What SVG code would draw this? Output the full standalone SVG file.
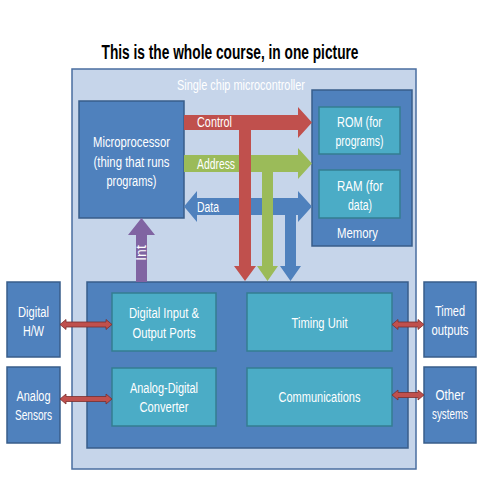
<svg xmlns="http://www.w3.org/2000/svg" width="480" height="480" viewBox="0 0 480 480">
<style>
text{font-family:"Liberation Sans","Noto Sans",sans-serif;fill:#ffffff;text-anchor:middle;font-size:14px}
.title{fill:#000000;font-weight:bold;font-size:20px}
.blue{fill:#4f81bd;stroke:#385d8a;stroke-width:1.5}
.teal{fill:#4bacc6;stroke:#357d91;stroke-width:1.5}
.small{fill:#c0504d;stroke:#7a2f2d;stroke-width:0.8}
</style>
<rect width="480" height="480" fill="#ffffff"/>
<text class="title" x="230" y="59" textLength="257" lengthAdjust="spacingAndGlyphs">This is the whole course, in one picture</text>
<g id="mcu">
<rect x="72" y="69" width="344" height="400" fill="#c6d5ea" stroke="#4a6ea0" stroke-width="1.5"/>
<text x="241" y="90" font-size="13" textLength="128" lengthAdjust="spacingAndGlyphs">Single chip microcontroller</text>
</g>
<g id="memory">
<rect class="blue" x="312" y="90" width="100" height="156"/>
<text x="357.5" y="238" textLength="41" lengthAdjust="spacingAndGlyphs">Memory</text>
</g>
<g id="rom">
<rect class="teal" x="319" y="107" width="81" height="47"/>
<text x="359.5" y="127" textLength="45" lengthAdjust="spacingAndGlyphs">ROM (for</text>
<text x="359.5" y="146" textLength="48" lengthAdjust="spacingAndGlyphs">programs)</text>
</g>
<g id="ram">
<rect class="teal" x="319" y="170" width="81" height="48"/>
<text x="360" y="191" textLength="46" lengthAdjust="spacingAndGlyphs">RAM (for</text>
<text x="360" y="210" textLength="24" lengthAdjust="spacingAndGlyphs">data)</text>
</g>
<g id="microprocessor">
<rect class="blue" x="79" y="101" width="105" height="117"/>
<text x="131.5" y="147" textLength="77" lengthAdjust="spacingAndGlyphs">Microprocessor</text>
<text x="131.5" y="167" textLength="76" lengthAdjust="spacingAndGlyphs">(thing that runs</text>
<text x="131.5" y="186" textLength="50" lengthAdjust="spacingAndGlyphs">programs)</text>
</g>
<g id="peripherals">
<rect class="blue" x="87" y="282" width="321" height="166"/>
</g>
<g id="dio">
<rect class="teal" x="112" y="293" width="104" height="58"/>
<text x="164" y="318" textLength="70" lengthAdjust="spacingAndGlyphs">Digital Input &amp;</text>
<text x="164" y="338" textLength="63" lengthAdjust="spacingAndGlyphs">Output Ports</text>
</g>
<g id="adc">
<rect class="teal" x="112" y="368" width="104" height="58"/>
<text x="164" y="393" textLength="68" lengthAdjust="spacingAndGlyphs">Analog-Digital</text>
<text x="164" y="412" textLength="49" lengthAdjust="spacingAndGlyphs">Converter</text>
</g>
<g id="timing">
<rect class="teal" x="247" y="293" width="145" height="58"/>
<text x="319.5" y="328" textLength="56" lengthAdjust="spacingAndGlyphs">Timing Unit</text>
</g>
<g id="comms">
<rect class="teal" x="247" y="368" width="145" height="58"/>
<text x="319.5" y="402" textLength="82" lengthAdjust="spacingAndGlyphs">Communications</text>
</g>
<g id="digitalhw">
<rect class="blue" x="7" y="282" width="53" height="75"/>
<text x="33.5" y="317" textLength="31" lengthAdjust="spacingAndGlyphs">Digital</text>
<text x="33.5" y="336" textLength="21" lengthAdjust="spacingAndGlyphs">H/W</text>
</g>
<g id="analogsensors">
<rect class="blue" x="7" y="367" width="53" height="76"/>
<text x="33.5" y="401" textLength="34" lengthAdjust="spacingAndGlyphs">Analog</text>
<text x="33.5" y="420" textLength="37" lengthAdjust="spacingAndGlyphs">Sensors</text>
</g>
<g id="timedoutputs">
<rect class="blue" x="424" y="282" width="52" height="75"/>
<text x="450" y="316" textLength="30" lengthAdjust="spacingAndGlyphs">Timed</text>
<text x="450" y="335" textLength="37" lengthAdjust="spacingAndGlyphs">outputs</text>
</g>
<g id="othersystems">
<rect class="blue" x="424" y="367" width="52" height="76"/>
<text x="450" y="400" textLength="29" lengthAdjust="spacingAndGlyphs">Other</text>
<text x="450" y="419" textLength="36" lengthAdjust="spacingAndGlyphs">systems</text>
</g>
<g id="connectors">
<path fill="#4f81bd" d="M197,198 H298 V191 L312,206.5 L298,222 V215 H296 V266 H301 L290.5,281 L280,266 H285 V215 H197 V222 L184,206.5 L197,191 Z"/>
<path fill="#9bbb59" d="M184,155 H298 V148 L312,163.5 L298,179 V172 H273 V266 H278 L267.5,281 L257,266 H262 V172 H184 Z"/>
<path fill="#c0504d" d="M184,115 H298 V107 L312,122.5 L298,138 V130 H251 V266 H256 L245,281 L234,266 H239 V130 H184 Z"/>
<path fill="#8064a2" d="M136,282 V235 H128 L141.5,218 L155,235 H147 V282 Z"/>
<text x="214.5" y="127" font-size="13" textLength="35" lengthAdjust="spacingAndGlyphs">Control</text>
<text x="216" y="169" font-size="13" textLength="38" lengthAdjust="spacingAndGlyphs">Address</text>
<text x="208" y="212" font-size="13" textLength="22" lengthAdjust="spacingAndGlyphs">Data</text>
<text transform="translate(145.5,253) rotate(-90)" font-size="12">Int</text>
<path class="small" d="M60,324.5 L66,319.5 V322 H106 V319.5 L112,324.5 L106,329.5 V327 H66 V329.5 Z"/>
<path class="small" d="M60,399 L66,394 V396.5 H106 V394 L112,399 L106,404 V401.5 H66 V404 Z"/>
<path class="small" d="M392,324.5 L398,319.5 V322 H418 V319.5 L424,324.5 L418,329.5 V327 H398 V329.5 Z"/>
<path class="small" d="M392,395 L398,390 V392.5 H418 V390 L424,395 L418,400 V397.5 H398 V400 Z"/>
</g>
</svg>
